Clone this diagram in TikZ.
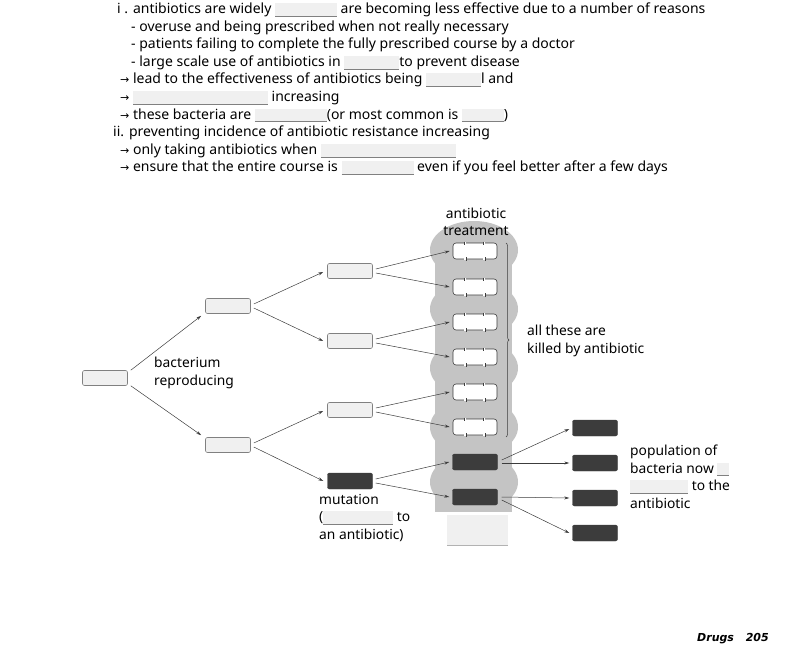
\documentclass[tikz,border=0pt]{standalone}
\usepackage{fontspec}
\setmainfont{Noto Sans}
\newfontfamily\arr{DejaVu Sans}
\newfontfamily\drg{DejaVu Sans}
\usetikzlibrary{decorations.pathreplacing,arrows.meta,calc}
\definecolor{bgray}{HTML}{F0F0F0}
\definecolor{blob}{HTML}{C4C4C4}
\definecolor{dk}{HTML}{3C3C3C}
\newcommand\blk[1]{\makebox[#1pt][l]{\textcolor{bgray}{\rule[-2.5pt]{#1pt}{13pt}}}\hspace{-#1pt}\makebox[#1pt][l]{\textcolor{gray}{\rule[-2.5pt]{#1pt}{0.5pt}}}}
\newcommand\ar{{\arr\fontsize{11}{12}\selectfont →}}
\begin{document}
\begin{tikzpicture}[x=1pt,y=-1pt,
  tx/.style={anchor=west,inner sep=0pt,font=\fontsize{14}{15}\selectfont},
  lb/.style={align=left,anchor=north west,inner sep=0pt,font=\fontsize{13.8}{17.5}\selectfont},
  lbox/.style={draw=gray,fill=bgray,rounded corners=2pt,minimum width=45pt,minimum height=15pt,inner sep=0pt,line width=0.6pt},
  dbox/.style={draw=dk,fill=dk,rounded corners=2pt,minimum width=45pt,minimum height=16pt,inner sep=0pt},
  wbox/.style={draw=dk,fill=white,rounded corners=3pt,minimum width=44pt,minimum height=16pt,inner sep=0pt,line width=0.6pt},
  ar/.style={-{Stealth[length=5pt,width=3pt]},draw=dk,line width=0.5pt}]
\useasboundingbox (0,0) rectangle (800,655);
% top text
\node[tx] (t1) at (117,10) {i . antibiotics are widely \blk{62} are becoming less effective due to a number of reasons};
\node[tx] (t2) at (131,28) {- overuse and being prescribed when not really necessary};
\node[tx] (t3) at (131,45) {- patients failing to complete the fully prescribed course by a doctor};
\node[tx] (t4) at (131,63) {- large scale use of antibiotics in \blk{55}to prevent disease};
\node[tx] (t5) at (120,80) {\ar{} lead to the effectiveness of antibiotics being \blk{55}l and};
\node[tx] (t6) at (120,98) {\ar{} \blk{135} increasing};
\node[tx] (t7) at (120,115) {\ar{} these bacteria are \blk{72}(or most common is \blk{42})};
\node[tx] (t8) at (113,133) {ii. preventing incidence of antibiotic resistance increasing};
\node[tx] (t9) at (120,151) {\ar{} only taking antibiotics when \blk{135}};
\node[tx] (t10) at (120,168) {\ar{} ensure that the entire course is \blk{72} even if you feel better after a few days};
% blob
\fill[blob] (435,250) rectangle (512,512);
\foreach \yy in {250,309,368,427,482} \fill[blob] (474,\yy) ellipse [x radius=44, y radius=29];
\fill[bgray] (447,515) rectangle (508,545);
\draw[gray!60,line width=0.5pt] (447,545) -- (508,545);
\node[align=center,inner sep=0pt,font=\fontsize{13.8}{17.5}\selectfont] (at) at (476,222) {antibiotic\\treatment};
% boxes
\node[lbox] (a) at (105,378) {};
\node[lbox] (b1) at (228,306) {};
\node[lbox] (b2) at (228,445) {};
\node[lbox] (c1) at (350,271) {};
\node[lbox] (c2) at (350,341) {};
\node[lbox] (c3) at (350,410) {};
\node[dbox] (c4) at (350,481) {};
\foreach \n/\yy in {1/251,2/287,3/322,4/357,5/392,6/427}{
  \node[wbox] (w\n) at (475,\yy) {};
  \foreach \dx in {-10,9}{
    \draw[white,line width=2pt] (475+\dx,\yy-9) -- (475+\dx,\yy-6);
    \draw[white,line width=2pt] (475+\dx,\yy+6) -- (475+\dx,\yy+9);
    \draw[dk,line width=0.5pt] (475+\dx-1.2,\yy-9.5) -- (475+\dx-1.2,\yy-6);
    \draw[dk,line width=0.5pt] (475+\dx+1.2,\yy+6) -- (475+\dx+1.2,\yy+9.5);
  }
}
\node[dbox] (m1) at (475,462) {};
\node[dbox] (m2) at (475,497) {};
\node[dbox] (r1) at (595,428) {};
\node[dbox] (r2) at (595,463) {};
\node[dbox] (r3) at (595,498) {};
\node[dbox] (r4) at (595,533) {};
% arrows
\draw[ar] ($(a.north east)+(3,0)$) -- ($(b1.south west)+(-4,2)$);
\draw[ar] ($(a.south east)+(3,0)$) -- ($(b2.north west)+(-4,-2)$);
\draw[ar] ($(b1.east)+(3,-2)$) -- ($(c1.west)+(-4,1)$);
\draw[ar] ($(b1.east)+(3,2)$) -- ($(c2.west)+(-4,0)$);
\draw[ar] ($(b2.east)+(3,-2)$) -- ($(c3.west)+(-4,1)$);
\draw[ar] ($(b2.east)+(3,2)$) -- ($(c4.west)+(-4,0)$);
\draw[ar] ($(c1.east)+(3,-2)$) -- ($(w1.west)+(-3,0)$);
\draw[ar] ($(c1.east)+(3,2)$) -- ($(w2.west)+(-3,0)$);
\draw[ar] ($(c2.east)+(3,-2)$) -- ($(w3.west)+(-3,0)$);
\draw[ar] ($(c2.east)+(3,2)$) -- ($(w4.west)+(-3,0)$);
\draw[ar] ($(c3.east)+(3,-2)$) -- ($(w5.west)+(-3,0)$);
\draw[ar] ($(c3.east)+(3,2)$) -- ($(w6.west)+(-3,0)$);
\draw[ar] ($(c4.east)+(3,-2)$) -- ($(m1.west)+(-3,0)$);
\draw[ar] ($(c4.east)+(3,2)$) -- ($(m2.west)+(-3,0)$);
\draw[ar] ($(m1.east)+(4,-2)$) -- ($(r1.west)+(-3,1)$);
\draw[ar] ($(m1.east)+(4,1)$) -- ($(r2.west)+(-3,0)$);
\draw[ar] ($(m2.east)+(4,0)$) -- ($(r3.west)+(-3,0)$);
\draw[ar] ($(m2.east)+(4,3)$) -- ($(r4.west)+(-3,0)$);
% brace
\draw[dk,line width=0.5pt,decorate,decoration={brace,amplitude=3pt}] (506,243) -- (506,437);
% labels
\node[lb] (l1) at (154,357) {bacterium\\reproducing};
\node[lb] (l2) at (527,325) {all these are\\killed by antibiotic};
\node[lb] (l3) at (319,494) {mutation\\(\blk{70} to\\an antibiotic)};
\node[lb] (l4) at (630,445) {population of\\bacteria now \blk{12}\\\blk{58} to the\\antibiotic};
\node[anchor=west,inner sep=0pt,font=\drg\fontsize{11}{12}\selectfont\itshape\bfseries] (dr) at (697,639) {Drugs \hspace{8pt}205};
\end{tikzpicture}
\end{document}
